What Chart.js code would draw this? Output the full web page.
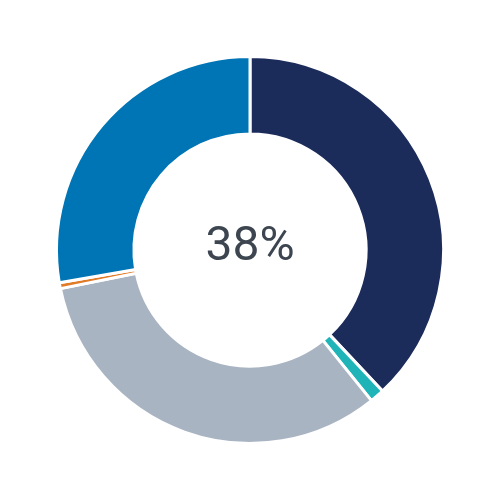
<!DOCTYPE html>
<html>
<head>
<meta charset="utf-8">
<script src="https://cdn.jsdelivr.net/npm/chart.js@4.4.0/dist/chart.umd.min.js"></script>
<style>
  html, body { margin: 0; padding: 0; background: #fff; }
  #wrap { width: 500px; height: 500px; }
</style>
</head>
<body>
<div id="wrap"><canvas id="myChart"></canvas></div>
<script>
'use strict'

const labels = ['Navy', 'Teal', 'Gray', 'Orange', 'Blue'];
const values = [38, 1.2, 32.6, 0.5, 27.7];
const colors = ['#1b2b5a', '#1fb5b8', '#a9b4c3', '#e07b28', '#0075b5'];
const centerLabel = '38%';

const centerText = {
    id: 'centerText',
    afterDraw(chart) {
        const ctx = chart.ctx;
        const meta = chart.getDatasetMeta(0).data[0];
        ctx.save();
        ctx.font = '48px Roboto, "Liberation Sans", sans-serif';
        ctx.fillStyle = '#3d4650';
        ctx.textAlign = 'center';
        ctx.textBaseline = 'middle';
        ctx.fillText(centerLabel, meta.x, meta.y - 2);
        ctx.restore();
    }
};

var ctx = document.getElementById('myChart').getContext('2d');
var chart = new Chart(ctx, {
    type: 'doughnut',
    data: {
        labels: labels,
        datasets: [{
            data: values,
            backgroundColor: colors,
            borderColor: '#ffffff',
            borderWidth: 3
        }]
    },
    options: {
        responsive: true,
        maintainAspectRatio: false,
        animation: false,
        cutout: '60%',
        layout: { padding: 55 },
        plugins: {
            legend: { display: false },
            tooltip: { enabled: false }
        }
    },
    plugins: [centerText]
});
</script>
</body>
</html>
